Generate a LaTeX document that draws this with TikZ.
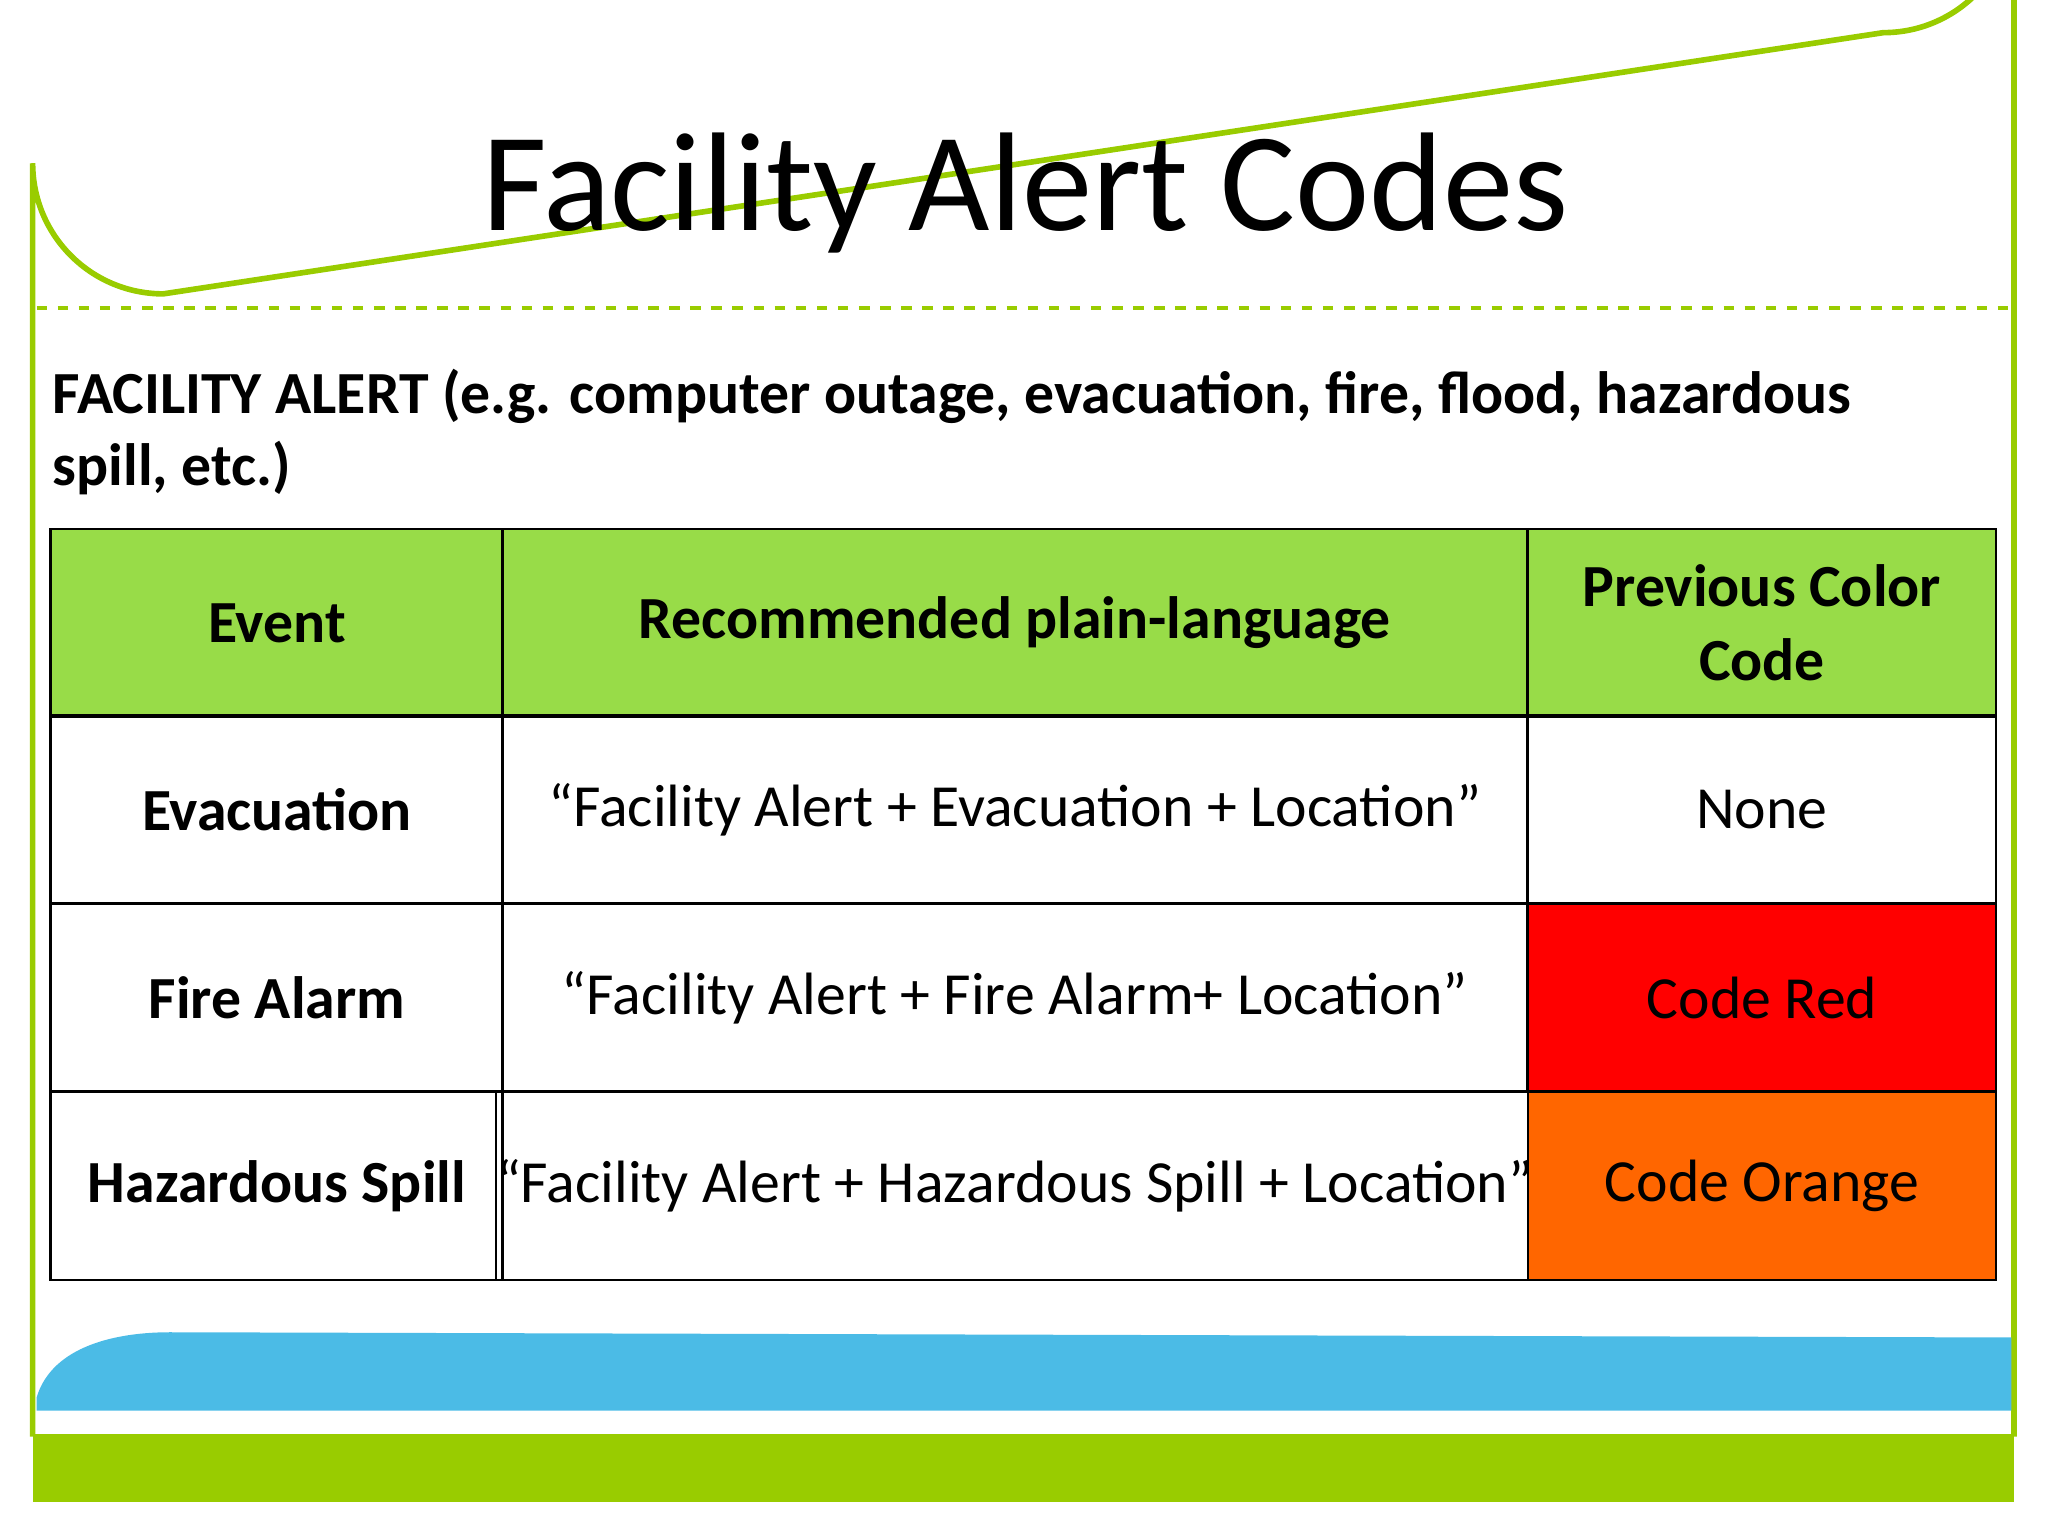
\documentclass[tikz,border=0pt]{standalone}
\usepackage{fontspec}
\setmainfont{Carlito}
\usetikzlibrary{positioning}
\definecolor{framegreen}{HTML}{99CC00}
\definecolor{headgreen}{HTML}{98DC48}
\definecolor{wave}{HTML}{4BBBE6}
\definecolor{codeorange}{HTML}{FF6600}
\begin{document}
\begin{tikzpicture}[x=0.01306cm, y=-0.01306cm,
    cell/.style={draw, line width=0.8pt, minimum height=1.88cm, align=center, inner sep=0pt, font=\fontsize{17}{21}\selectfont},
    colA/.style={cell, minimum width=4.52cm},
    colB/.style={cell, minimum width=10.25cm},
    colC/.style={cell, minimum width=4.68cm}]
    \useasboundingbox (0,0) rectangle (1568,1176);

    % Frame
    \draw[framegreen, line width=1.6pt] (25,1100) -- (25,125) arc[start angle=180, end angle=90, radius=100] -- (1442,25) arc[start angle=90, end angle=0, radius=100] -- (1542,1100);
    \fill[framegreen] (25,1098) rectangle (1542,1150);
    \fill[wave] (28,1080) -- (28,1070) .. controls (40,1030) and (90,1020) .. (130,1020) -- (1540,1024) -- (1540,1080) -- cycle;
    \draw[framegreen, line width=1pt, dashed] (28,236) -- (1540,236);

    % Title
    \node[font=\fontsize{40}{48}\selectfont] (title) at (785,148) {Facility Alert Codes};
    \node[anchor=north west, align=left, inner sep=0pt, font=\bfseries\fontsize{17}{20.5}\selectfont] (sub) at (40,282)
        {FACILITY ALERT (e.g. computer outage, evacuation, fire, flood, hazardous\\spill, etc.)};

    % Header
    \node[colA, fill=headgreen, font=\bfseries\fontsize{17}{21}\selectfont] (h1) at (212,477) {Event};
    \node[colB, fill=headgreen, font=\bfseries\fontsize{17}{21}\selectfont] (h2) at (777,477) {Recommended plain-language};
    \node[colC, fill=headgreen, font=\bfseries\fontsize{17}{21}\selectfont] (h3) at (1349,477) {Previous Color\\Code};

    % Rows
    \node[colA, font=\bfseries\fontsize{17}{21}\selectfont] (e1) at (212,620) {Evacuation};
    \node[colB] (p1) at (777,620) {“Facility Alert + Evacuation + Location"};
    \node[colC] (c1) at (1349,620) {None};

    \node[colA, font=\bfseries\fontsize{17}{21}\selectfont] (e2) at (212,764) {Fire Alarm};
    \node[colB] (p2) at (777,764) {“Facility Alert + Fire Alarm+ Location”};
    \node[colC, fill=red] (c2) at (1349,764) {Code Red};

    \node[colA, font=\bfseries\fontsize{17}{21}\selectfont] (e3) at (212,908) {Hazardous Spill};
    \node[colB] (p3) at (777,908) {“Facility Alert + Hazardous Spill + Location"};
    \node[colC, fill=codeorange] (c3) at (1349,908) {Code Orange};
\end{tikzpicture}
\end{document}
